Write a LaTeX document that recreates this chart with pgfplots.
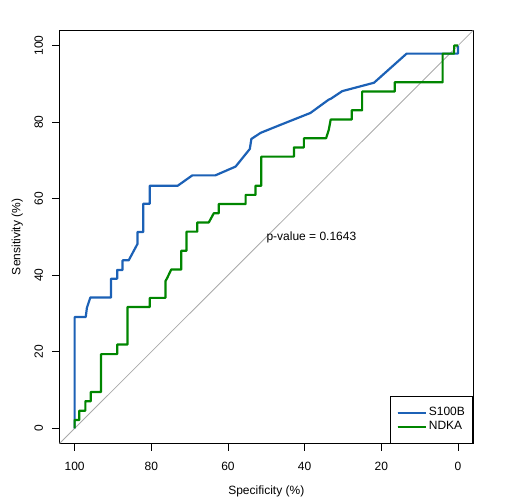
\documentclass[border=0pt]{standalone}
\usepackage{fontspec}
\setmainfont{Liberation Sans}
\usepackage{pgfplots}
\pgfplotsset{compat=1.18}
\definecolor{sblue}{HTML}{1C61B6}
\definecolor{ngreen}{HTML}{008600}
\definecolor{idgrey}{HTML}{A9A9A9}
\begin{document}
\fontsize{12bp}{14bp}\selectfont
\begin{tikzpicture}[x=1bp,y=1bp]
\useasboundingbox (0,0) rectangle (504,504);
\begin{axis}[
  at={(59.3bp,60.3bp)}, anchor=south west,
  scale only axis, width=414bp, height=413.4bp,
  xmin=-4, xmax=104, ymin=-4, ymax=104,
  x dir=reverse,
  xtick={0,20,...,100}, ytick={0,20,...,100},
  tick align=outside, tick pos=left,
  major tick length=7bp,
  axis line style={line width=0.9bp},
  every tick/.style={line width=0.9bp, black},
  /pgf/number format/assume math mode=true,
  tick label style={font=\fontsize{12bp}{14bp}\selectfont},
  xticklabel style={yshift=-7bp},
  yticklabel style={rotate=90, anchor=south, yshift=5bp},
  xlabel={Specificity (\%)}, ylabel={Sensitivity (\%)},
  label style={font=\fontsize{12bp}{14bp}\selectfont},
  xlabel style={yshift=-7bp},
  ylabel style={yshift=3.5bp},
  legend style={at={(rel axis cs:1,0)}, anchor=south east, draw=black,
    line width=0.9bp, font=\fontsize{12bp}{14bp}\selectfont,
    inner xsep=6bp, inner ysep=9.5bp, row sep=0bp},
  legend cell align=left,
  legend image code/.code={\draw[#1] (0bp,0bp) -- (23bp,0bp); \path (0bp,0bp) -- (28bp,0bp);},
  clip=true,
]
\addplot[idgrey, line width=0.8bp, forget plot] coordinates {(104,-4) (-4,104)};
\addplot[sblue, line width=2.2bp, line join=round] coordinates {
(100,0) (100,29.1) (97.1,29.1) (96.8,31.5) (95.9,34.2) (90.5,34.2) (90.5,39.1)
(88.9,39.1) (88.9,41.4) (87.5,41.4) (87.5,43.9) (85.9,43.9) (83.6,48.2) (83.6,51.3)
(82.1,51.3) (82.1,58.7) (80.4,58.7) (80.4,63.4) (73.1,63.4) (69.3,66.1) (63.3,66.1)
(58.0,68.4) (54.3,73.0) (53.9,75.6) (51.5,77.2) (46.3,79.3) (38.5,82.4) (33.7,85.9)
(33.2,86.1) (30.2,88.1) (21.9,90.3) (13.4,97.9) (0,97.9) (0,100)};
\addlegendentry{S100B}
\addplot[ngreen, line width=2.2bp, line join=round] coordinates {
(100,0) (100,2.2) (98.8,2.2) (98.8,4.6) (97.2,4.6) (97.2,7.1) (95.8,7.1) (95.8,9.5)
(93.1,9.5) (93.1,19.4) (88.9,19.4) (88.9,21.9) (86.2,21.9) (86.2,31.7) (80.4,31.7)
(80.4,34.1) (76.3,34.1) (76.3,38.5) (75.9,39.2) (74.8,41.5) (72.2,41.5) (72.2,46.4)
(70.8,46.4) (70.8,51.4) (68.0,51.4) (68.0,53.8) (65.0,53.8) (63.7,56.2) (62.4,56.2)
(62.4,58.6) (55.4,58.6) (55.4,61.0) (52.8,61.0) (52.8,63.4) (51.3,63.4) (51.3,71.0)
(42.8,71.0) (42.8,73.4) (40.2,73.4) (40.2,75.8) (34.4,75.8) (33.7,78.0) (33.2,80.7)
(27.7,80.7) (27.7,83.1) (25.0,83.1) (25.0,88.0) (16.5,88.0) (16.5,90.4) (4.0,90.4)
(4.0,97.9) (1.0,97.9) (1.0,100) (0,100)};
\addlegendentry{NDKA}
\node[anchor=west, inner sep=0pt, font=\fontsize{12bp}{14bp}\selectfont] at (axis cs:50,50) {p-value = 0.1643};
\end{axis}
\end{tikzpicture}
\end{document}
